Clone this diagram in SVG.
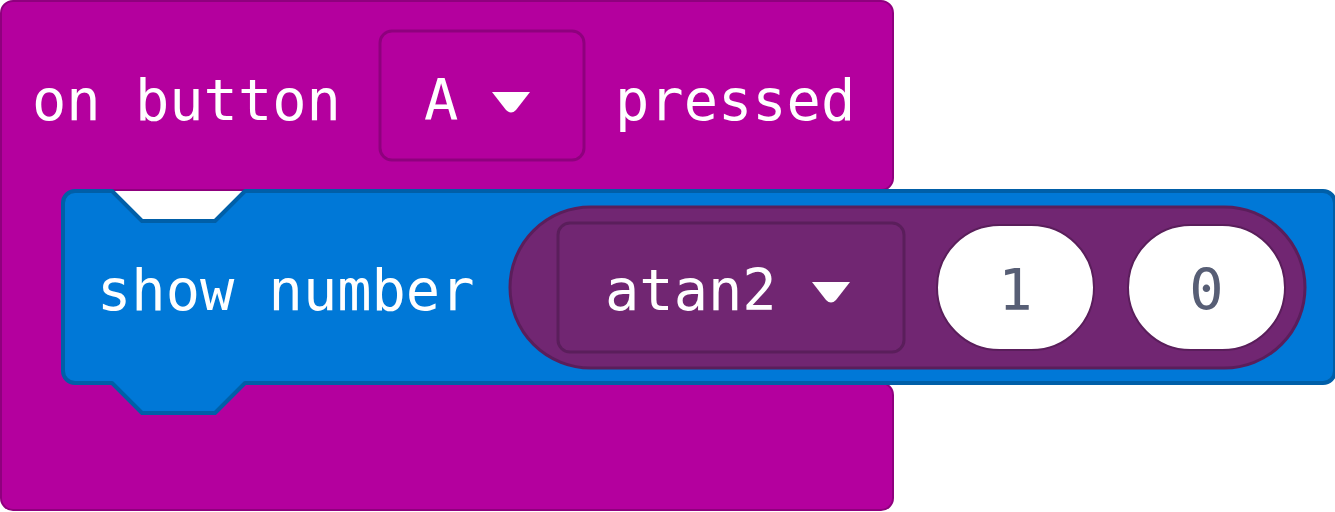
<svg xmlns="http://www.w3.org/2000/svg" width="1335" height="512" viewBox="0 0 1335 512">
<style>
text{font-family:"DejaVu Sans Mono","Liberation Mono",monospace;font-size:57px;fill:#fff}
.num{fill:#575E75}
</style>
<g id="event-block">
<path d="M13,1 H881 a12 12 0 0 1 12 12 V178 a12 12 0 0 1 -12 12 H75 V383 H881 a12 12 0 0 1 12 12 V498 a12 12 0 0 1 -12 12 H13 a12 12 0 0 1 -12 -12 V13 a12 12 0 0 1 12 -12 Z" fill="#B4009E" stroke="#8F007E" stroke-width="2"/>
<text x="32" y="120">on button</text>
<text x="615" y="120">pressed</text>
</g>
<g id="dropdown-A">
<rect x="380" y="31" width="204" height="129" rx="12" fill="#B4009E" stroke="#8F007E" stroke-width="3"/>
<text x="424" y="120">A</text>
<path d="M492,92 H530 L516,110 Q511,115 506,110 Z" fill="#fff"/>
</g>
<g id="show-number">
<path d="M75,191 H112 L142,221 H215 L245,191 H1323 a12 12 0 0 1 12 12 V371 a12 12 0 0 1 -12 12 H245 L215,413 H142 L112,383 H75 a12 12 0 0 1 -12 -12 V203 a12 12 0 0 1 12 -12 Z" fill="#0078D7" stroke="#005FA8" stroke-width="4" stroke-linejoin="round"/>
<text x="97" y="310">show number</text>
</g>
<g id="math-reporter">
<rect x="510" y="207" width="795" height="161" rx="80.5" fill="#712672" stroke="#5A1E5B" stroke-width="3"/>
</g>
<g id="dropdown-atan2">
<rect x="558" y="223" width="346" height="129" rx="12" fill="#712672" stroke="#5A1E5B" stroke-width="3"/>
<text x="605" y="310">atan2</text>
<path d="M812,282 H850 L836,300 Q831,305 826,300 Z" fill="#fff"/>
</g>
<g id="input-1">
<rect x="937" y="225" width="157" height="125" rx="62.5" fill="#fff" stroke="#5A1E5B" stroke-width="2"/>
<text class="num" x="1015.5" y="310" text-anchor="middle">1</text>
</g>
<g id="input-0">
<rect x="1128" y="225" width="157" height="125" rx="62.5" fill="#fff" stroke="#5A1E5B" stroke-width="2"/>
<text class="num" x="1206.5" y="310" text-anchor="middle">0</text>
</g>
<g id="connectors"/>
</svg>
